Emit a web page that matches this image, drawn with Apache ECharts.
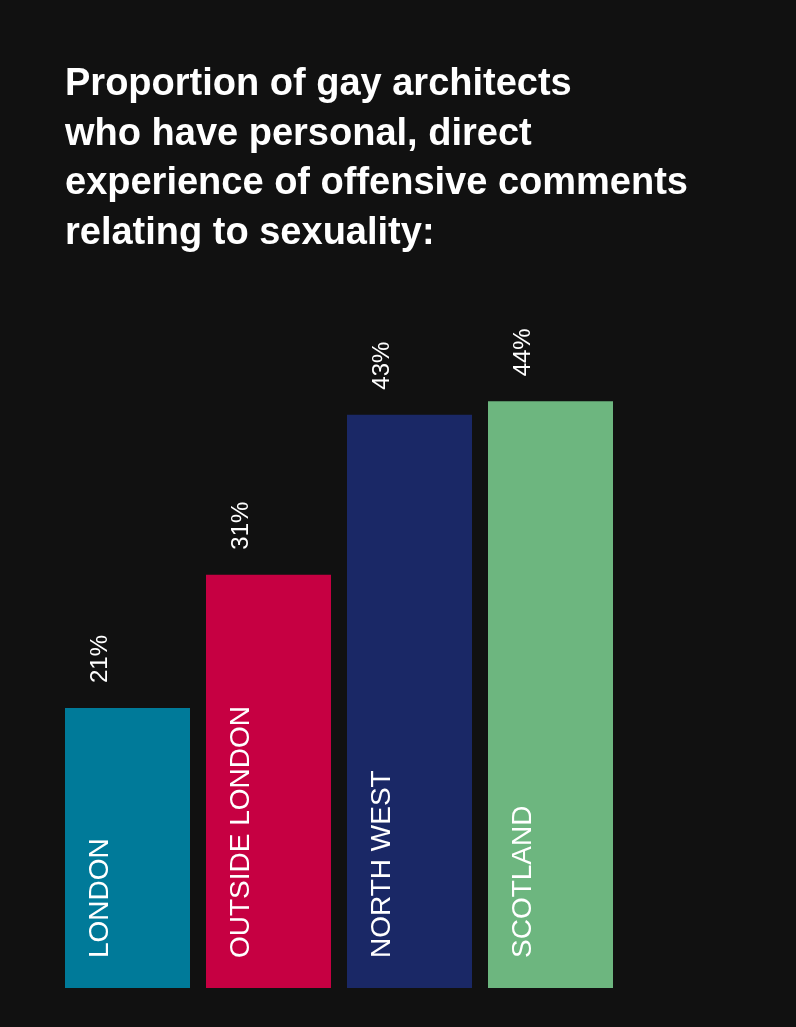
<!DOCTYPE html>
<head>
<meta charset="utf-8">
<style>html,body{margin:0;padding:0;background:#111111;width:100%;height:100%;}#main{width:796px;height:1027px;}</style>
</head>
<body>
<div id="main"></div>
<script src="https://cdn.jsdelivr.net/npm/echarts@6/dist/echarts.min.js"></script>
<script>
var categories = ['LONDON', 'OUTSIDE LONDON', 'NORTH WEST', 'SCOTLAND'];
var values = [21, 31, 43, 44];
var colors = ['#007a99', '#c60042', '#1a2866', '#6db67f'];
var titleLines = 'Proportion of gay architects\nwho have personal, direct\nexperience of offensive comments\nrelating to sexuality:';

var chart = echarts.init(document.getElementById('main'));
chart.setOption({
  backgroundColor: '#111111',
  title: {
    text: titleLines, left: 60, top: 55,
    textStyle: { color: '#fff', fontSize: 38, fontWeight: 'bold', fontFamily: 'Liberation Sans', lineHeight: 49.5 }
  },
  grid: { left: 57, right: 175, top: 188, bottom: 39 },
  xAxis: { type: 'category', data: categories, show: false },
  yAxis: { type: 'value', min: 0, max: 60, show: false },
  series: [{
    type: 'bar', barWidth: 125, silent: true,
    data: values.map(function (v, i) { return { value: v, itemStyle: { color: colors[i] } }; }),
    label: {
      show: true, position: 'insideBottom', rotate: 90, align: 'left', verticalAlign: 'middle',
      distance: 30, offset: [0, -27],
      formatter: function (p) { return p.name; },
      color: '#fff', fontSize: 28, fontFamily: 'Liberation Sans'
    }
  }, {
    type: 'bar', barWidth: 125, barGap: '-100%', silent: true,
    itemStyle: { color: 'transparent' },
    data: values,
    label: {
      show: true, position: 'top', rotate: 90, align: 'left', verticalAlign: 'middle',
      distance: 25, offset: [0, -27],
      formatter: '{c}%', color: '#fff', fontSize: 24, fontFamily: 'Liberation Sans'
    }
  }]
});
</script>
</body>
